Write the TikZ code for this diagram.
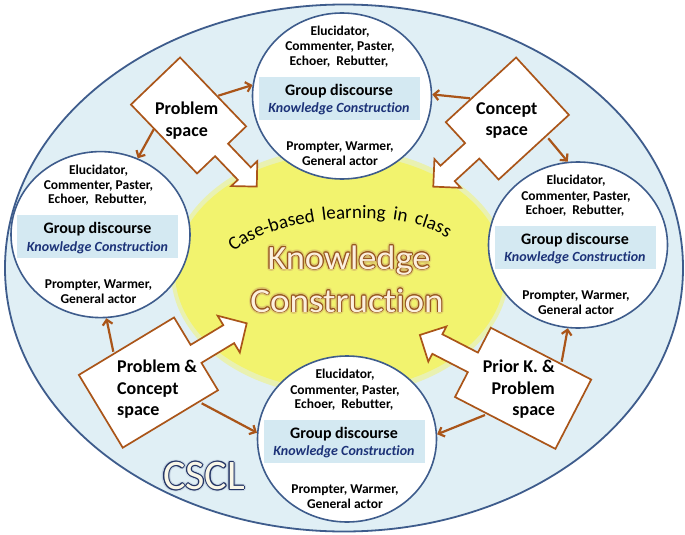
\documentclass[tikz,border=0pt]{standalone}
\usepackage{fontspec}
\setmainfont{Carlito}[Ligatures=NoCommon]
\usetikzlibrary{shapes.geometric,arrows.meta,calc,decorations.text}
\definecolor{bgblue}{RGB}{224,239,245}
\definecolor{bdr}{RGB}{62,92,140}
\definecolor{ylw}{RGB}{242,243,110}
\definecolor{rectblue}{RGB}{212,233,242}
\definecolor{kcblue}{RGB}{28,50,120}
\definecolor{brn}{RGB}{170,85,25}
\definecolor{cream}{RGB}{252,240,222}
\definecolor{kcout}{RGB}{150,85,30}
\definecolor{kcglow}{RGB}{205,165,105}
\definecolor{csclout}{RGB}{35,52,100}
\definecolor{csclfill}{RGB}{250,247,232}
\definecolor{csclglow}{RGB}{160,175,200}
\newcommand\arcfont{\fontsize{19}{21}\selectfont}
% x, y, angle, L, W, S, w, H, h
\newcommand\calloutshape[9]{%
  \draw[callout, shift={(#1,#2)}, rotate=#3]
   (0,{-#5/2}) -- (#4,{-#5/2}) -- (#4,{-#7/2}) -- ({#4+#6},{-#7/2}) -- ({#4+#6},{-#9/2})
   -- ({#4+#6+#8},0) -- ({#4+#6},{#9/2}) -- ({#4+#6},{#7/2}) -- (#4,{#7/2}) -- (#4,{#5/2})
   -- (0,{#5/2}) -- cycle;}
% name, position, style, text, glow, outline, fill
\newcommand\glowtext[7]{%
  \foreach \a in {0,30,...,330} \node[#3, text=#5, opacity=.22] (#1g\a) at ($(#2)+(\a:2.4)$) {#4};
  \foreach \a in {0,30,...,330} \node[#3, text=#6] (#1o\a) at ($(#2)+(\a:0.9)$) {#4};
  \node[#3, text=#7] (#1) at (#2) {#4};}
\tikzset{
  gc/.style={ellipse, draw=bdr, line width=1.6pt, fill=white, minimum width=179pt, minimum height=166pt, inner sep=0pt},
  gbox/.style={rectangle, fill=rectblue, minimum width=161pt, minimum height=43pt, inner sep=0pt},
  gtxt/.style={font=\fontsize{13.5}{15}\selectfont\bfseries, inner sep=0pt, anchor=base},
  gdtxt/.style={font=\fontsize{16}{18}\selectfont\bfseries, inner sep=0pt, anchor=base},
  kctxt/.style={font=\fontsize{14}{16}\selectfont\bfseries\itshape, text=kcblue, inner sep=0pt, anchor=base},
  callout/.style={draw=brn, line width=1.7pt, fill=white, line join=miter},
  conn/.style={draw=brn, line width=2.2pt, -{Straight Barb[length=5pt,width=10pt]}},
  ctxt/.style={font=\fontsize{18}{22}\selectfont\bfseries, inner sep=0pt},
  bigkc/.style={font=\fontsize{34}{40}\selectfont, inner sep=0pt, anchor=base},
  cscltxt/.style={font=\fontsize{42}{48}\selectfont, inner sep=0pt, anchor=base},
  gcircle/.pic={
    \node[gc] (-c) at (0,0) {};
    \node[gbox] (-b) at (-3,2) {};
    \node[gtxt] (-r1) at (-2,-60.2) {Elucidator,};
    \node[gtxt] (-r2) at (-2,-45) {Commenter, Paster,};
    \node[gtxt] (-r3) at (-3,-30.7) {Echoer,\ \ Rebutter,};
    \node[gdtxt] (-g) at (-3,-0.9) {Group discourse};
    \node[kctxt] (-k) at (-3,16.5) {Knowledge Construction};
    \node[gtxt] (-p1) at (-2,54.3) {Prompter, Warmer,};
    \node[gtxt] (-p2) at (-2,69.3) {General actor};
  }
}
\begin{document}
\begin{tikzpicture}[x=1pt, y=-1pt]
\useasboundingbox (0,0) rectangle (685,535);
\fill[white] (0,0) rectangle (685,535);
\node[ellipse, fill=bgblue, draw=bdr, line width=1.8pt, minimum width=678pt, minimum height=527pt, inner sep=0pt] (outer) at (344,268) {};
\node[ellipse, fill=ylw, opacity=.5, minimum width=338pt, minimum height=248pt, inner sep=0pt] (yelglow) at (340,272) {};
\node[ellipse, fill=ylw, minimum width=330pt, minimum height=236pt, inner sep=0pt] (yel) at (340,272) {};

\pic (gtop) at (342,96) {gcircle};
\pic (gleft) at (100.5,234.6) {gcircle};
\pic (gright) at (578,245) {gcircle};
\pic (gbot) at (347,439) {gcircle};

% callouts
\calloutshape{155.5}{81}{-46.2}{95.5}{68}{32.8}{18}{18}{36}
\calloutshape{542.5}{86.2}{222.6}{95.5}{78}{33.4}{21}{19.5}{39}
\calloutshape{100.8}{411.3}{31.1}{111.2}{85}{38.2}{21}{21}{43}
\calloutshape{573.3}{414.2}{152.7}{113}{78}{40}{22}{19.7}{39.5}

\node[ctxt, anchor=base] (ps1) at (186.7,114.1) {Problem};
\node[ctxt, anchor=base] (ps2) at (186.7,136.8) {space};
\node[ctxt, anchor=base] (cs1) at (506.7,114.1) {Concept};
\node[ctxt, anchor=base] (cs2) at (506.7,135.8) {space};
\node[ctxt, anchor=base west] (pc1) at (117,372.5) {Problem \&};
\node[ctxt, anchor=base west] (pc2) at (117,394.1) {Concept};
\node[ctxt, anchor=base west] (pc3) at (117,415.8) {space};
\node[ctxt, anchor=base east] (pk1) at (555,372.5) {Prior K. \&};
\node[ctxt, anchor=base east] (pk2) at (555,394.1) {Problem};
\node[ctxt, anchor=base east] (pk3) at (555,415.8) {space};

% connectors
\coordinate (psa) at (218.3,95.7);
\coordinate (psb) at (154.3,128.3);
\coordinate (csa) at (470,98.3);
\coordinate (csb) at (548.3,138.3);
\coordinate (pca) at (113.3,351.7);
\coordinate (pcb) at (201.7,403.3);
\coordinate (pka) at (561.7,361.7);
\coordinate (pkb) at (485,415);
\draw[conn] (psa) -- (gtop-c.173.5);
\draw[conn] (psb) -- (gleft-c.64.6);
\draw[conn] (csa) -- (gtop-c.1);
\draw[conn] (csb) -- (gright-c.97.6);
\draw[conn] (pca) -- (gleft-c.274.2);
\draw[conn] (pcb) -- (gbot-c.176.4);
\draw[conn] (pka) -- (gright-c.263.5);
\draw[conn] (pkb) -- (gbot-c.3.6);

% centre texts
\path[decorate, decoration={text along path, text={|\arcfont|Case-based learning in class}, text align={fit to path stretching spaces}}]
  (234,252) .. controls (272,218) and (395,203) .. (447,238);
\glowtext{kna}{349,269}{bigkc}{\scalebox{1.07}[1]{Knowledge}}{kcglow}{kcout}{cream}
\glowtext{knb}{347,312}{bigkc}{\scalebox{1.09}[1]{Construction}}{kcglow}{kcout}{cream}
\glowtext{cscl}{204,489.5}{cscltxt}{CSCL}{csclglow}{csclout}{csclfill}
\end{tikzpicture}
\end{document}
